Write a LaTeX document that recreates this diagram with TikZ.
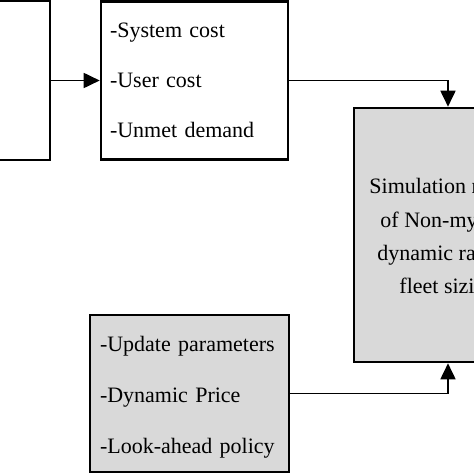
\documentclass[tikz,border=0pt]{standalone}
\usepackage{fontspec}
\setmainfont{Liberation Serif}
\usepackage{xcolor}
\usepackage{tikz}
\usetikzlibrary{arrows.meta}

\begin{document}
\begin{tikzpicture}[x=1pt, y=-1pt,
     box/.style={rectangle, draw, line width=2.6pt, inner sep=0pt, font=\fontsize{22}{50}\selectfont},
     graybox/.style={box, fill=black!15},
     txt/.style={inner sep=0pt, font=\fontsize{22}{51}\selectfont},
     link/.style={line width=1.8pt, -{Triangle[length=16pt, width=15pt]}}]
     \useasboundingbox (0,0) rectangle (474,474);
     \clip (0,0) rectangle (474,474);

     \node[box, minimum width=110pt, minimum height=159pt] (left) at (-5,80.5) {};
     \node[box, align=left, text width=169pt, inner xsep=9pt, minimum height=158pt] (cost) at (194.5,80.5)
          {-System cost\\-User cost\\-Unmet demand};
     \node[graybox, minimum width=188pt, minimum height=254pt] (sim) at (448,235) {};
     \node[txt, align=center, font=\fontsize{22}{33.3}\selectfont] (simtext) at (448,238.5)
          {Simulation model\\of Non-myopic\\dynamic ratings\\fleet sizing};
     \node[graybox, minimum width=199pt, minimum height=157pt] (update) at (189.5,393.5) {};
     \node[txt, align=left, text width=179pt] (updatetext) at (189.5,397)
          {-Update parameters\\-Dynamic Price\\-Look-ahead policy};

     \draw[link] (left.east) -- (cost.west);
     \draw[link] (cost.east) -| (sim.north);
     \draw[link] (update.east) -| (sim.south);
 \end{tikzpicture}
\end{document}
